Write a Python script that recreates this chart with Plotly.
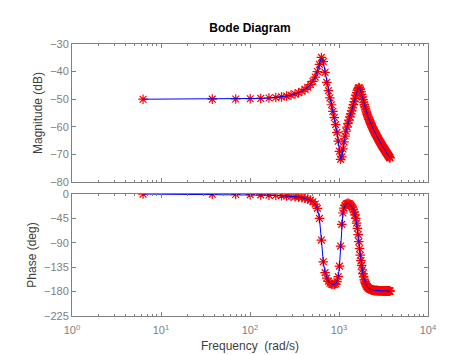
import numpy as np
import plotly.graph_objects as go

# Frequency samples (Hz) -> rad/s
freq_hz = [
    1, 6, 11, 16, 21, 26, 31, 36, 41, 46,
    51, 56, 61, 66, 71, 76, 81, 86, 91, 96,
    101, 106, 111, 116, 121, 126, 131, 136, 141, 146,
    151, 156, 161, 166, 171, 176, 181, 186, 191, 196,
    201, 206, 211, 216, 221, 226, 231, 236, 241, 246,
    251, 256, 261, 266, 271, 276, 281, 286, 291, 296,
    301, 306, 311, 316, 321, 326, 331, 336, 341, 346,
    351, 356, 361, 366, 371, 376, 381, 386, 391, 396,
    401, 406, 411, 416, 421, 426, 431, 436, 441, 446,
    451, 456, 461, 466, 471, 476, 481, 486, 491, 496,
    501, 506, 511, 516, 521, 526, 531, 536, 541, 546,
    551, 556, 561, 566, 571, 576, 581, 586, 591, 596,
]

magnitude_db = [
    -50.00, -49.98, -49.93, -49.84, -49.72, -49.57, -49.38, -49.14, -48.86, -48.53,
    -48.14, -47.67, -47.12, -46.46, -45.67, -44.71, -43.51, -41.98, -39.98, -37.40,
    -34.87, -36.40, -40.30, -43.90, -46.90, -49.50, -52.00, -54.40, -56.64, -59.21,
    -62.01, -65.22, -68.87, -71.78, -70.89, -68.03, -65.44, -63.35, -61.61, -60.12,
    -58.79, -57.57, -56.41, -55.30, -54.20, -53.10, -51.99, -50.86, -49.71, -48.55,
    -47.60, -46.75, -46.16, -45.81, -45.93, -46.46, -47.28, -48.23, -49.21, -50.17,
    -51.10, -51.97, -52.78, -53.55, -54.27, -54.94, -55.58, -56.18, -56.75, -57.29,
    -57.81, -58.30, -58.77, -59.23, -59.66, -60.08, -60.49, -60.88, -61.26, -61.62,
    -61.98, -62.32, -62.66, -62.98, -63.30, -63.61, -63.91, -64.21, -64.50, -64.78,
    -65.06, -65.33, -65.59, -65.85, -66.10, -66.35, -66.60, -66.84, -67.07, -67.31,
    -67.54, -67.76, -67.98, -68.20, -68.41, -68.62, -68.83, -69.03, -69.23, -69.43,
    -69.63, -69.82, -70.01, -70.20, -70.39, -70.57, -70.75, -70.93, -71.11, -71.28,
]

phase_deg = [
    -0.1, -0.5, -0.8, -1.2, -1.6, -2.1, -2.5, -3.0, -3.6, -4.2,
    -4.9, -5.7, -6.7, -7.9, -9.4, -11.4, -14.2, -18.5, -26.5, -45.0,
    -85.0, -125.0, -145.0, -155.0, -161.0, -164.5, -166.5, -167.0, -167.0, -165.5,
    -161.5, -152.5, -133.0, -96.0, -56.0, -35.0, -26.0, -21.0, -18.5, -17.5,
    -17.3, -17.8, -18.8, -20.5, -22.5, -25.3, -28.7, -33.0, -38.5, -45.0,
    -53.6, -63.2, -74.8, -87.8, -100.9, -112.9, -123.0, -131.5, -139.7, -146.8,
    -152.9, -158.3, -162.0, -165.3, -167.7, -169.8, -171.2, -172.5, -173.5, -174.3,
    -174.9, -175.5, -176.0, -176.4, -176.8, -177.0, -177.2, -177.5, -177.7, -177.8,
    -177.9, -178.0, -178.0, -178.1, -178.1, -178.2, -178.2, -178.2, -178.3, -178.3,
    -178.3, -178.4, -178.4, -178.4, -178.5, -178.5, -178.5, -178.5, -178.6, -178.6,
    -178.6, -178.6, -178.7, -178.7, -178.7, -178.7, -178.8, -178.8, -178.8, -178.8,
    -178.8, -178.9, -178.9, -178.9, -178.9, -178.9, -179.0, -179.0, -179.0, -179.0,
]

x_tick_vals = [1, 10, 100, 1000, 10000]
x_tick_text = ["10<sup>0</sup>", "10<sup>1</sup>", "10<sup>2</sup>", "10<sup>3</sup>", "10<sup>4</sup>"]
mag_ticks = [-80, -70, -60, -50, -40, -30]
phase_ticks = [-225, -180, -135, -90, -45, 0]

omega = [2 * np.pi * f for f in freq_hz]

GREY = "#808080"
FONT = "Liberation Sans, Arial, sans-serif"

fig = go.Figure()

marker_style = dict(symbol="asterisk-open", size=8, color="red",
                    line=dict(color="red", width=1.2))

fig.add_trace(go.Scatter(x=omega, y=magnitude_db, mode="markers", marker=marker_style,
                         xaxis="x", yaxis="y", showlegend=False, hoverinfo="skip"))
fig.add_trace(go.Scatter(x=omega, y=magnitude_db, mode="lines", line=dict(color="blue", width=1),
                         xaxis="x", yaxis="y", showlegend=False))
fig.add_trace(go.Scatter(x=omega, y=phase_deg, mode="markers", marker=marker_style,
                         xaxis="x2", yaxis="y2", showlegend=False, hoverinfo="skip"))
fig.add_trace(go.Scatter(x=omega, y=phase_deg, mode="lines", line=dict(color="blue", width=1),
                         xaxis="x2", yaxis="y2", showlegend=False))

common_x = dict(type="log", range=[0, 4], tickvals=x_tick_vals, ticktext=x_tick_text,
                ticks="inside", ticklen=4, tickcolor=GREY, showline=True, linecolor=GREY,
                linewidth=1, mirror="ticks", showgrid=False, zeroline=False, automargin=False,
                minor=dict(ticks="inside", ticklen=2, tickcolor=GREY, dtick="D1", showgrid=False),
                tickfont=dict(family=FONT, size=11, color=GREY))
common_y = dict(ticks="inside", ticklen=4, tickcolor=GREY, showline=True, linecolor=GREY,
                linewidth=1, mirror="ticks", showgrid=False, zeroline=False, automargin=False,
                tickfont=dict(family=FONT, size=11, color=GREY))

fig.update_layout(
    width=474, height=355,
    margin=dict(l=64, r=54, t=36, b=47, autoexpand=False),
    paper_bgcolor="white", plot_bgcolor="white",
    title=dict(text="<b>Bode Diagram</b>", x=242 / 474, xanchor="center", xref="container",
               y=1 - 20 / 355, yanchor="middle", yref="container",
               font=dict(family=FONT, size=12, color="black")),
    xaxis=dict(common_x, domain=[0, 1], anchor="y", showticklabels=False, matches="x2"),
    yaxis=dict(common_y, domain=[0.4926, 1.0], range=[-80, -30], tickvals=mag_ticks,
               title=dict(text="Magnitude (dB)", standoff=4,
                          font=dict(family=FONT, size=12, color="#404040"))),
    xaxis2=dict(common_x, domain=[0, 1], anchor="y2", ticklabelstandoff=4,
                title=dict(text="Frequency\u00a0 (rad/s)", standoff=6,
                           font=dict(family=FONT, size=12, color="#404040"))),
    yaxis2=dict(common_y, domain=[0.0, 0.4485], range=[-225, 0], tickvals=phase_ticks,
                title=dict(text="Phase (deg)", standoff=4,
                           font=dict(family=FONT, size=12, color="#404040"))),
)

fig.write_html("out.html")
